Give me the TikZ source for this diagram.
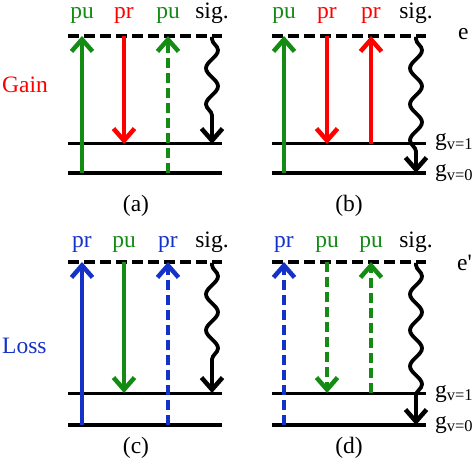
\documentclass[tikz,border=0pt]{standalone}
\usepackage{fontspec}
\setmainfont{Liberation Serif}
\usetikzlibrary{arrows.meta,decorations.pathmorphing}
\definecolor{pgreen}{RGB}{20,140,20}
\definecolor{pred}{RGB}{255,0,0}
\definecolor{pblue}{RGB}{20,50,200}
\begin{document}
\begin{tikzpicture}[x=1pt,y=-1pt,
  every node/.style={font=\fontsize{23.5}{26}\selectfont, inner sep=0pt},
  lab/.style={anchor=base},
  side/.style={anchor=base west},
  virt/.style={line width=3.8pt, dash pattern=on 11pt off 5pt},
  lvlone/.style={line width=3pt},
  lvlzero/.style={line width=4.8pt},
  tip/.style={-{Straight Barb[length=12pt,width=21pt,line width=4.5pt]}},
  trans/.style={line width=4pt, tip},
  dsh/.style={dash pattern=on 10pt off 5pt},
  sigwave/.style={line width=3.8pt, tip, decorate,
    decoration={snake, amplitude=6pt, segment length=36pt, pre length=2pt, post length=18pt}},
]
\useasboundingbox (0,0) rectangle (474,462);

% ---------- side labels
\node[side, text=pred] (gain) at (2,93) {Gain};
\node[side, text=pblue] (loss) at (2,353) {Loss};

% ================= panel (a)
\coordinate (aL0) at (68,36);  \coordinate (aR0) at (222,36);
\coordinate (aL1) at (68,144); \coordinate (aR1) at (222,144);
\coordinate (aL2) at (68,173); \coordinate (aR2) at (222,173);
\draw[virt] (aL0) -- (aR0);
\draw[lvlone] (aL1) -- (aR1);
\draw[lvlzero] (aL2) -- (aR2);
\node[lab, text=pgreen] (aT1) at (82,19) {pu};
\node[lab, text=pred] (aT2) at (124,19) {pr};
\node[lab, text=pgreen] (aT3) at (168,19) {pu};
\node[lab] (aT4) at (212,19) {sig.};
\coordinate (a1b) at (82,173);  \coordinate (a1t) at (82,36);
\coordinate (a2t) at (124,36);  \coordinate (a2b) at (124,144);
\coordinate (a3b) at (168,173); \coordinate (a3t) at (168,36);
\coordinate (a4t) at (212,37);  \coordinate (a4b) at (212,144);
\draw[trans, pgreen] (a1b) -- (a1t);
\draw[trans, pred] (a2t) -- (a2b);
\draw[trans, pgreen, dsh] (a3b) -- (a3t);
\draw[sigwave] (a4t) -- (a4b);
\node[lab] (acap) at (136,212) {(a)};

% ================= panel (b)
\coordinate (bL0) at (272,36);  \coordinate (bR0) at (426,36);
\coordinate (bL1) at (272,144); \coordinate (bR1) at (426,144);
\coordinate (bL2) at (272,173); \coordinate (bR2) at (426,173);
\draw[virt] (bL0) -- (bR0);
\draw[lvlone] (bL1) -- (bR1);
\draw[lvlzero] (bL2) -- (bR2);
\node[lab, text=pgreen] (bT1) at (284,19) {pu};
\node[lab, text=pred] (bT2) at (327,19) {pr};
\node[lab, text=pred] (bT3) at (371,19) {pr};
\node[lab] (bT4) at (416,19) {sig.};
\coordinate (b1b) at (284,173); \coordinate (b1t) at (284,36);
\coordinate (b2t) at (327,36);  \coordinate (b2b) at (327,144);
\coordinate (b3b) at (371,144); \coordinate (b3t) at (371,36);
\coordinate (b4t) at (416,37);  \coordinate (b4b) at (416,173);
\draw[trans, pgreen] (b1b) -- (b1t);
\draw[trans, pred] (b2t) -- (b2b);
\draw[trans, pred] (b3b) -- (b3t);
\draw[sigwave] (b4t) -- (b4b);
\node[lab] (bcap) at (349,212) {(b)};
\node[side] (be) at (458,40) {e};
\node[side] (bg1) at (435,146) {g\textsubscript{v=1}};
\node[side] (bg0) at (435,177) {g\textsubscript{v=0}};

% ================= panel (c)
\coordinate (cL0) at (68,262);  \coordinate (cR0) at (222,262);
\coordinate (cL1) at (68,393);  \coordinate (cR1) at (222,393);
\coordinate (cL2) at (68,425);  \coordinate (cR2) at (222,425);
\draw[virt] (cL0) -- (cR0);
\draw[lvlone] (cL1) -- (cR1);
\draw[lvlzero] (cL2) -- (cR2);
\node[lab, text=pblue] (cT1) at (82,248) {pr};
\node[lab, text=pgreen] (cT2) at (124,248) {pu};
\node[lab, text=pblue] (cT3) at (168,248) {pr};
\node[lab] (cT4) at (212,248) {sig.};
\coordinate (c1b) at (82,425);  \coordinate (c1t) at (82,262);
\coordinate (c2t) at (124,262); \coordinate (c2b) at (124,393);
\coordinate (c3b) at (168,425); \coordinate (c3t) at (168,262);
\coordinate (c4t) at (212,263); \coordinate (c4b) at (212,393);
\draw[trans, pblue] (c1b) -- (c1t);
\draw[trans, pgreen] (c2t) -- (c2b);
\draw[trans, pblue, dsh] (c3b) -- (c3t);
\draw[sigwave] (c4t) -- (c4b);
\node[lab] (ccap) at (136,453) {(c)};

% ================= panel (d)
\coordinate (dL0) at (272,262); \coordinate (dR0) at (426,262);
\coordinate (dL1) at (272,393); \coordinate (dR1) at (426,393);
\coordinate (dL2) at (272,425); \coordinate (dR2) at (426,425);
\draw[virt] (dL0) -- (dR0);
\draw[lvlone] (dL1) -- (dR1);
\draw[lvlzero] (dL2) -- (dR2);
\node[lab, text=pblue] (dT1) at (284,248) {pr};
\node[lab, text=pgreen] (dT2) at (327,248) {pu};
\node[lab, text=pgreen] (dT3) at (371,248) {pu};
\node[lab] (dT4) at (416,248) {sig.};
\coordinate (d1b) at (284,425); \coordinate (d1t) at (284,262);
\coordinate (d2t) at (327,262); \coordinate (d2b) at (327,393);
\coordinate (d3b) at (371,393); \coordinate (d3t) at (371,262);
\coordinate (d4t) at (416,263); \coordinate (d4b) at (416,425);
\draw[trans, pblue, dsh] (d1b) -- (d1t);
\draw[trans, pgreen, dsh] (d2t) -- (d2b);
\draw[trans, pgreen, dsh] (d3b) -- (d3t);
\draw[sigwave] (d4t) -- (d4b);
\node[lab] (dcap) at (349,453) {(d)};
\node[side] (de) at (457,271) {e\textquotesingle};
\node[side] (dg1) at (435,397) {g\textsubscript{v=1}};
\node[side] (dg0) at (435,428) {g\textsubscript{v=0}};
\end{tikzpicture}
\end{document}
